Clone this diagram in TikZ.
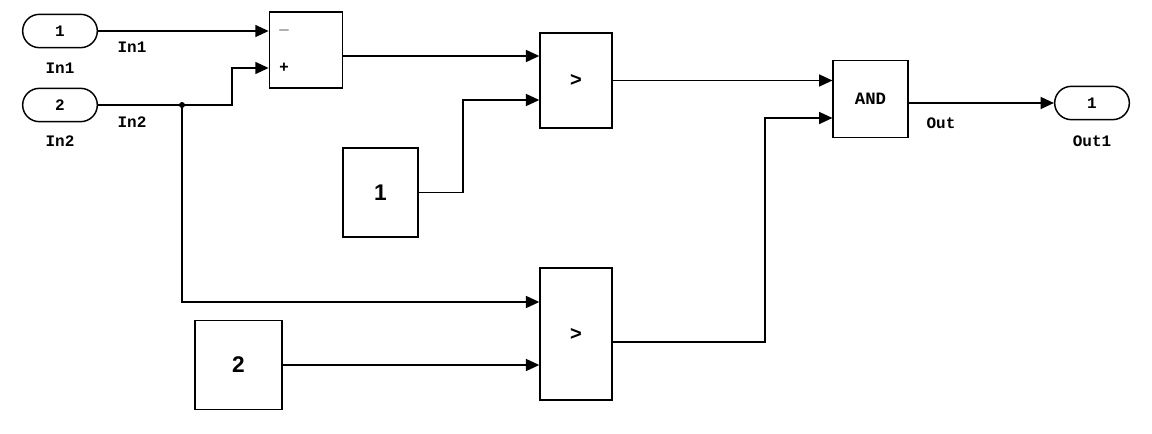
\documentclass[tikz,border=0pt]{standalone}
\usepackage{fontspec}
\setmainfont{Liberation Sans}
\newfontfamily\mono{Liberation Mono}
\usetikzlibrary{arrows.meta,shapes.misc}
\begin{document}
\begin{tikzpicture}[x=0.75pt,y=-0.75pt,line width=1.1pt,
  blk/.style={draw,fill=white,inner sep=0pt},
  port/.style={draw,rounded rectangle,minimum width=56pt,minimum height=25pt,inner sep=0pt,font=\mono\bfseries\fontsize{12}{14}\selectfont},
  lab/.style={font=\mono\bfseries\fontsize{12}{14}\selectfont},
  sig/.style={-{Triangle[length=10pt,width=9pt]}},
  wire/.style={}]
\useasboundingbox (0,0) rectangle (1152,434);
\node[port] (in1) at (60,31) {1};
\node[lab] (in1l) at (60,68) {In1};
\node[port] (in2) at (60,105) {2};
\node[lab] (in2l) at (60,141) {In2};
\node[port] (out1) at (1092,103) {1};
\node[lab] (out1l) at (1092,141) {Out1};
\node[blk,minimum width=55pt,minimum height=57pt] (sum) at (306,50) {};
\node[font=\bfseries\fontsize{12}{14}\selectfont] at (284,31) {$-$};
\node[font=\bfseries\fontsize{12}{14}\selectfont] at (284,68) {+};
\node[blk,minimum width=54pt,minimum height=71pt,font=\bfseries\fontsize{15}{18}\selectfont] (cmp1) at (576,80.5) {>};
\node[blk,minimum width=54pt,minimum height=99pt,font=\bfseries\fontsize{15}{18}\selectfont] (cmp2) at (576,334) {>};
\node[blk,minimum width=56pt,minimum height=67pt,font=\bfseries\fontsize{17}{20}\selectfont] (c1) at (380.5,192.5) {1};
\node[blk,minimum width=65pt,minimum height=67pt,font=\bfseries\fontsize{17}{20}\selectfont] (c2) at (238.5,365) {2};
\node[blk,minimum width=56pt,minimum height=58pt,font=\mono\bfseries\fontsize{13}{15}\selectfont] (and) at (870.5,99) {AND};
\coordinate (j) at (182,105);
\fill (j) circle (3);
\draw[sig] (in1.east) -- (in1.east -| sum.west) coordinate (s1);
\node[lab] (in1s) at (132,47) {In1};
\draw[wire] (in2.east) -- (j);
\draw[sig] (j) -- (232,105) -- (232,68) -- (sum.west |- 0,68);
\node[lab] (in2s) at (132,122) {In2};
\draw[sig] (sum.east |- 0,56) -- (cmp1.west |- 0,56);
\draw[sig] (c1.east) -- (463,192.5) -- (463,100) -- (cmp1.west |- 0,100);
\draw[sig] (j) -- (182,302) -- (cmp2.west |- 0,302);
\draw[sig] (c2.east) -- (cmp2.west |- c2.east);
\draw[sig] (cmp1.east) -- (and.west |- 0,80.5);
\draw[sig] (cmp2.east |- 0,342) -- (765,342) -- (765,118) -- (and.west |- 0,118);
\draw[sig] (and.east |- 0,103) -- (out1.west);
\node[lab] (outs) at (941,123) {Out};
\end{tikzpicture}
\end{document}
